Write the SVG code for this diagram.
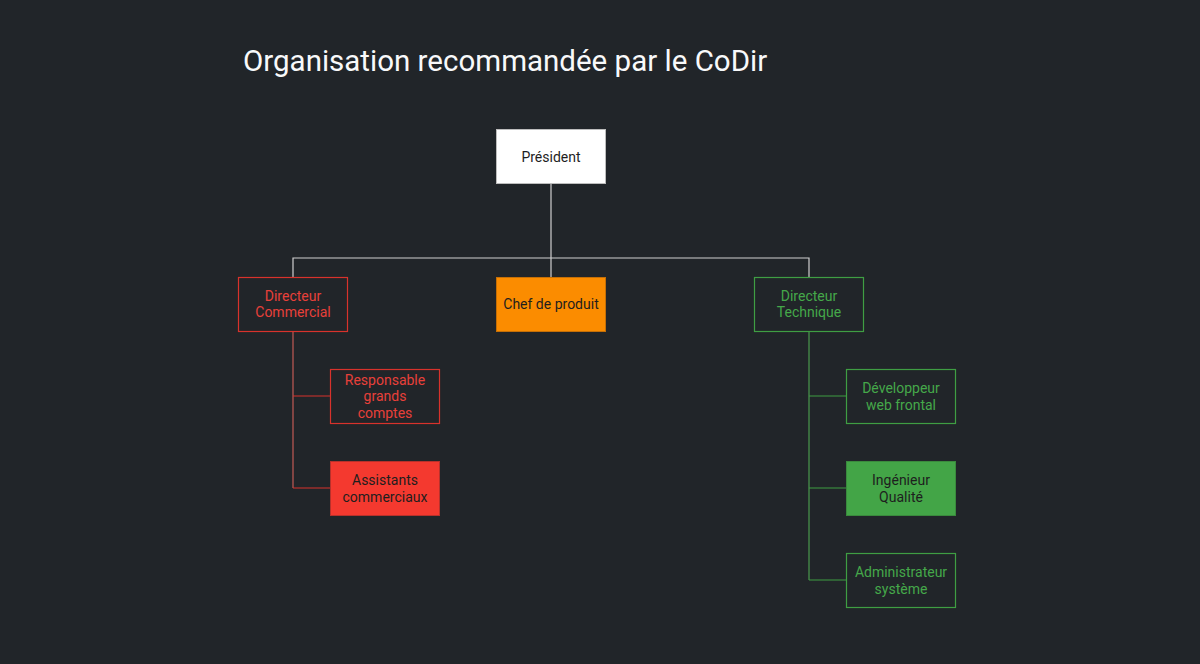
<svg xmlns="http://www.w3.org/2000/svg" width="1200" height="664" viewBox="0 0 1200 664">
<style>
text{font-family:Roboto,"Liberation Sans",sans-serif;font-size:14px;text-anchor:middle}
.title{font-size:29.5px;text-anchor:start;fill:#f8f9fa}
.box{stroke-width:1.2}
.red{fill:none;stroke:#d8322c}
.redt{fill:#e8403a}
.green{fill:none;stroke:#3f9e43}
.greent{fill:#45a84a}
.dark{fill:#1e1e1e}
.conn{fill:none;stroke-width:1.2}
</style>
<rect width="1200" height="664" fill="#212529"/>
<text class="title" x="243" y="71">Organisation recommandée par le CoDir</text>
<g id="connectors">
<path class="conn" stroke="#cfcfcf" d="M551 184V277M293 277V258H809V277"/>
<path class="conn" stroke="#c25a55" d="M293 332V488"/>
<path class="conn" stroke="#d8322c" d="M293 396H330M293 488H330"/>
<path class="conn" stroke="#4a9a4d" d="M809 332V580"/>
<path class="conn" stroke="#3f9e43" d="M809 396H846M809 488H846M809 580H846"/>
</g>
<g id="president">
<rect x="496.5" y="129.5" width="109" height="54" fill="#ffffff" stroke="#bdbdbd"/>
<text class="dark" x="551" y="162">Président</text>
</g>
<g id="dir-commercial">
<rect class="box red" x="238.5" y="277.5" width="109" height="54"/>
<text class="redt" x="293" y="301">Directeur</text>
<text class="redt" x="293" y="317">Commercial</text>
</g>
<g id="chef-produit">
<rect x="496.5" y="277.5" width="109" height="54" fill="#fb8c00" stroke="#c56f06"/>
<text class="dark" x="551" y="309">Chef de produit</text>
</g>
<g id="dir-technique">
<rect class="box green" x="754.5" y="277.5" width="109" height="54"/>
<text class="greent" x="809" y="301">Directeur</text>
<text class="greent" x="809" y="317">Technique</text>
</g>
<g id="resp-grands-comptes">
<rect class="box red" x="330.5" y="369.5" width="109" height="54"/>
<text class="redt" x="385" y="385">Responsable</text>
<text class="redt" x="385" y="401">grands</text>
<text class="redt" x="385" y="418">comptes</text>
</g>
<g id="assistants">
<rect x="330.5" y="461.5" width="109" height="54" fill="#f4392f" stroke="#b8312b"/>
<text class="dark" x="385" y="485">Assistants</text>
<text class="dark" x="385" y="502">commerciaux</text>
</g>
<g id="dev-web">
<rect class="box green" x="846.5" y="369.5" width="109" height="54"/>
<text class="greent" x="901" y="393">Développeur</text>
<text class="greent" x="901" y="410">web frontal</text>
</g>
<g id="ingenieur-qualite">
<rect x="846.5" y="461.5" width="109" height="54" fill="#43a547" stroke="#3a8a3d"/>
<text class="dark" x="901" y="485">Ingénieur</text>
<text class="dark" x="901" y="502">Qualité</text>
</g>
<g id="admin-systeme">
<rect class="box green" x="846.5" y="553.5" width="109" height="54"/>
<text class="greent" x="901" y="577">Administrateur</text>
<text class="greent" x="901" y="594">système</text>
</g>
</svg>
